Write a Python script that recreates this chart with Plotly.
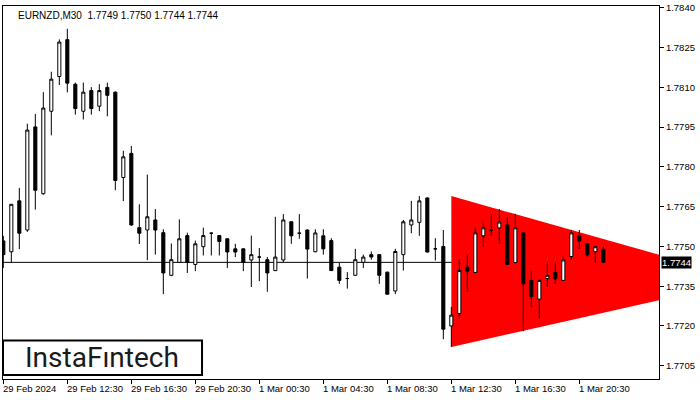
import plotly.graph_objects as go

# ---------------- data ----------------
symbol = "EURNZD,M30"
bars = list(range(76))  # bar index, 30-minute bars starting 29 Feb 2024 08:30

opens = [1.77521, 1.77480, 1.77672, 1.77562, 1.77951, 1.77699, 1.78010, 1.78141, 1.78280, 1.78112,
         1.78010, 1.78088, 1.78029, 1.78100, 1.78082, 1.77760, 1.77851, 1.77571, 1.77562, 1.77600,
         1.77552, 1.77391, 1.77440, 1.77541, 1.77432, 1.77499, 1.77550, 1.77541, 1.77529, 1.77491,
         1.77491, 1.77449, 1.77460, 1.77450, 1.77409, 1.77449, 1.77593, 1.77550, 1.77562, 1.77480,
         1.77540, 1.77522, 1.77422, 1.77379, 1.77391, 1.77440, 1.77469, 1.77469, 1.77403, 1.77332,
         1.77469, 1.77581, 1.77591, 1.77683, 1.77491, 1.77500, 1.77200, 1.77247, 1.77422, 1.77402,
         1.77540, 1.77562, 1.77570, 1.77581, 1.77439, 1.77551, 1.77372, 1.77301, 1.77379, 1.77402,
         1.77372, 1.77462, 1.77540, 1.77511, 1.77480, 1.7749]
highs = [1.77540, 1.77660, 1.77721, 1.77963, 1.78000, 1.78082, 1.78159, 1.78281, 1.78321, 1.78118,
         1.78118, 1.78101, 1.78112, 1.78118, 1.78085, 1.77861, 1.77879, 1.77659, 1.77771, 1.77641,
         1.77565, 1.77511, 1.77602, 1.77552, 1.77522, 1.77571, 1.77552, 1.77543, 1.77531, 1.77510,
         1.77493, 1.77541, 1.77494, 1.77460, 1.77612, 1.77622, 1.77595, 1.77622, 1.77564, 1.77565,
         1.77565, 1.77531, 1.77438, 1.77403, 1.77491, 1.77469, 1.77481, 1.77471, 1.77405, 1.77491,
         1.77600, 1.77672, 1.77690, 1.77685, 1.77531, 1.77562, 1.77272, 1.77451, 1.77470, 1.77571,
         1.77593, 1.77623, 1.77641, 1.77612, 1.77623, 1.77553, 1.77409, 1.77374, 1.77439, 1.77439,
         1.77462, 1.77562, 1.77562, 1.77513, 1.77501, 1.7750]
lows = [1.77419, 1.77441, 1.77490, 1.77555, 1.77639, 1.77695, 1.77919, 1.78109, 1.78081, 1.77997,
        1.77979, 1.77997, 1.78010, 1.77991, 1.77712, 1.77671, 1.77578, 1.77509, 1.77448, 1.77469,
        1.77320, 1.77388, 1.77438, 1.77400, 1.77407, 1.77466, 1.77466, 1.77466, 1.77419, 1.77460,
        1.77407, 1.77347, 1.77369, 1.77329, 1.77407, 1.77440, 1.77510, 1.77529, 1.77379, 1.77478,
        1.77469, 1.77409, 1.77359, 1.77341, 1.77389, 1.77419, 1.77450, 1.77359, 1.77318, 1.77320,
        1.77409, 1.77550, 1.77540, 1.77477, 1.77447, 1.77150, 1.77121, 1.77229, 1.77328, 1.77400,
        1.77497, 1.77540, 1.77509, 1.77430, 1.77437, 1.77180, 1.77270, 1.77229, 1.77347, 1.77359,
        1.77370, 1.77449, 1.77491, 1.77462, 1.77439, 1.7744]
closes = [1.77469, 1.77659, 1.77550, 1.77939, 1.77712, 1.78022, 1.78131, 1.78271, 1.78116, 1.78020,
          1.78082, 1.78020, 1.78088, 1.78070, 1.77749, 1.77838, 1.77581, 1.77550, 1.77612, 1.77562,
          1.77400, 1.77450, 1.77529, 1.77440, 1.77510, 1.77541, 1.77550, 1.77519, 1.77479, 1.77479,
          1.77440, 1.77469, 1.77460, 1.77400, 1.77460, 1.77600, 1.77540, 1.77550, 1.77490, 1.77551,
          1.77491, 1.77409, 1.77372, 1.77379, 1.77450, 1.77460, 1.77460, 1.77391, 1.77320, 1.77481,
          1.77593, 1.77600, 1.77672, 1.77479, 1.77491, 1.77188, 1.77241, 1.77409, 1.77407, 1.77551,
          1.77570, 1.77562, 1.77592, 1.77432, 1.77570, 1.77359, 1.77311, 1.77372, 1.77391, 1.77378,
          1.77449, 1.77551, 1.77521, 1.77468, 1.77499, 1.7744]

# symmetrical triangle pattern vertices (bar index, price)
tri_bars = [56, 93.2, 56]
tri_prices = [1.77690, 1.77373, 1.77121]

tick_bars = [0, 8, 16, 24, 32, 40, 48, 56, 64, 72]
tick_labels = ["29 Feb 2024", "29 Feb 12:30", "29 Feb 16:30", "29 Feb 20:30", "1 Mar 00:30",
               "1 Mar 04:30", "1 Mar 08:30", "1 Mar 12:30", "1 Mar 16:30", "1 Mar 20:30"]
price_ticks = [1.7705, 1.7720, 1.7735, 1.7750, 1.7765, 1.7780, 1.7795, 1.7810, 1.7825, 1.7840]

x_range = [-0.04, 81.96]
y_range = [1.7700, 1.78407]

FONT = "Liberation Sans, Arial, sans-serif"

# ---------------- figure ----------------
fig = go.Figure()
fig.add_trace(go.Candlestick(
    x=bars, open=opens, high=highs, low=lows, close=closes,
    increasing=dict(line=dict(color="black", width=1), fillcolor="white"),
    decreasing=dict(line=dict(color="black", width=1), fillcolor="black"),
    whiskerwidth=0, showlegend=False, hoverinfo="skip",
))

tri_path = "M {} {} L {} {} L {} {} Z".format(tri_bars[0], tri_prices[0], tri_bars[1], tri_prices[1],
                                             tri_bars[2], tri_prices[2])
shapes = [
    dict(type="path", path=tri_path, xref="x", yref="y", fillcolor="#FF0000",
         line=dict(width=0), layer="below"),
    dict(type="line", xref="paper", x0=0, x1=1, yref="y", y0=closes[-1], y1=closes[-1],
         line=dict(color="black", width=1), layer="below"),
    # logo frame
    dict(type="rect", xref="paper", yref="paper", x0=0.0, x1=0.3034, y0=0.0106, y1=0.1034,
         line=dict(color="black", width=2), fillcolor="white", layer="above"),
]

annotations = []
for b, lab in zip(tick_bars, tick_labels):
    annotations.append(dict(x=b, y=0, xref="x", yref="paper", text=lab, showarrow=False,
                            xanchor="left", yanchor="top", xshift=-2, yshift=-2,
                            font=dict(family=FONT, size=9.5, color="black")))
# title / OHLC header
annotations.append(dict(x=0, y=1, xref="paper", yref="paper", xanchor="left", yanchor="top",
                        xshift=13, yshift=-2, showarrow=False,
                        text="{} \u00a0{:.4f} {:.4f} {:.4f} {:.4f}".format(
                            symbol, opens[-1], highs[-1], lows[-1], closes[-1]),
                        font=dict(family=FONT, size=10, color="black")))
# current price label
annotations.append(dict(x=1, y=closes[-1], xref="paper", yref="y", xanchor="left", yanchor="middle",
                        xshift=2, showarrow=False, text="{:.4f}".format(closes[-1]),
                        bgcolor="black", borderpad=0,
                        font=dict(family=FONT, size=9.5, color="white")))
# logo text
annotations.append(dict(x=0.1507, y=0.057, xref="paper", yref="paper", xanchor="center",
                        yanchor="middle", showarrow=False, text="InstaF\u0131ntech",
                        font=dict(family="Roboto, sans-serif", size=28, color="#1a1a1a")))

fig.update_layout(
    width=700, height=400,
    margin=dict(l=3, r=41, t=2, b=21),
    paper_bgcolor="white", plot_bgcolor="white",
    boxgap=0.45,
    shapes=shapes, annotations=annotations,
    showlegend=False,
    xaxis=dict(range=x_range, rangeslider=dict(visible=False), showgrid=False, zeroline=False,
               showline=True, mirror=True, linecolor="black", linewidth=1,
               tickmode="array", tickvals=tick_bars, ticks="outside", ticklen=4,
               tickcolor="black", showticklabels=False),
    yaxis=dict(range=y_range, side="right", showgrid=False, zeroline=False,
               showline=True, mirror=True, linecolor="black", linewidth=1,
               tickmode="array", tickvals=price_ticks,
               ticktext=["{:.4f}".format(p) for p in price_ticks],
               ticks="outside", ticklen=4, tickcolor="black", ticklabeloverflow="allow",
               tickfont=dict(family=FONT, size=9.5, color="black")),
)

fig.write_html(
    "out.html",
    config={"displayModeBar": False, "staticPlot": True},
    post_script="document.body.style.margin='0';document.body.style.padding='0';"
                "document.documentElement.style.overflow='hidden';document.body.style.overflow='hidden';",
)
